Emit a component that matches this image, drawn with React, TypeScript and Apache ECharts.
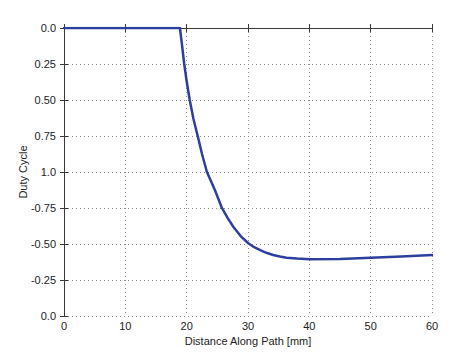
import React, { useEffect, useRef } from "react";
import * as echarts from "echarts";

const yTickLabels = ["0.0", "0.25", "0.50", "0.75", "1.0", "-0.75", "-0.50", "-0.25", "0.0"];
const xTickValues = [0, 10, 20, 30, 40, 50, 60];
const distance = [0, 10, 18.9, 19.25, 19.6, 20.0, 20.5, 21.1, 21.8, 22.5, 23.3, 24.6, 25.7, 26.7, 27.6, 28.8, 30.05, 31.0, 32.0, 33.0, 34.1, 35.2, 36.3, 38.0, 40.1, 45.0, 50.0, 55.0, 60.0];
const duty = [0, 0, 0, 0.12, 0.25, 0.37, 0.5, 0.63, 0.75, 0.875, 1.0, 1.125, 1.245, 1.32, 1.38, 1.445, 1.495, 1.522, 1.543, 1.561, 1.576, 1.587, 1.595, 1.601, 1.606, 1.605, 1.596, 1.587, 1.576];

export default function App() {
  const ref = useRef<HTMLDivElement>(null);
  useEffect(() => {
    if (!ref.current) return;
    const chart = echarts.init(ref.current, null, { renderer: "svg" });
    const font = "Arial, 'Liberation Sans', sans-serif";
    const axisLine = { show: true, lineStyle: { color: "#3a3a3a", width: 1 } };
    const tick = { show: true, inside: true, length: 4, lineStyle: { color: "#3a3a3a" } };
    chart.setOption({
      animation: false,
      backgroundColor: "#ffffff",
      grid: { left: 64, right: 42, top: 28, bottom: 39 },
      xAxis: [
        {
          type: "value",
          min: 0,
          max: 60,
          interval: 10,
          name: "Distance Along Path [mm]",
          nameLocation: "middle",
          nameGap: 19,
          nameMoveOverlap: false,
          nameTextStyle: { fontFamily: font, fontSize: 11, color: "#222" },
          axisLine,
          axisTick: tick,
          axisLabel: {
            fontFamily: font,
            fontSize: 11,
            color: "#222",
            margin: 4,
            formatter: (v: number) => (xTickValues.includes(v) ? String(v) : ""),
          },
          splitLine: { show: true, lineStyle: { type: [1, 3], color: "#888", width: 1 } },
        },
        {
          type: "value",
          position: "top",
          min: 0,
          max: 60,
          interval: 10,
          axisLine,
          axisTick: tick,
          axisLabel: { show: false },
          splitLine: { show: false },
        },
      ],
      yAxis: [
        {
          type: "value",
          min: 0,
          max: 2,
          interval: 0.25,
          inverse: true,
          name: "Duty Cycle",
          nameLocation: "middle",
          nameGap: 36,
          nameRotate: 90,
          nameMoveOverlap: false,
          nameTextStyle: { fontFamily: font, fontSize: 11, color: "#222" },
          axisLine,
          axisTick: tick,
          axisLabel: {
            fontFamily: font,
            fontSize: 11,
            color: "#222",
            margin: 8,
            formatter: (v: number) => yTickLabels[Math.round(v / 0.25)] ?? "",
          },
          splitLine: { show: true, lineStyle: { type: [1, 3], color: "#888", width: 1 } },
        },
        {
          type: "value",
          position: "right",
          min: 0,
          max: 2,
          interval: 0.25,
          inverse: true,
          axisLine,
          axisTick: tick,
          axisLabel: { show: false },
          splitLine: { show: false },
        },
      ],
      series: [
        {
          type: "line",
          data: distance.map((d, i) => [d, duty[i]]),
          showSymbol: false,
          smooth: false,
          lineStyle: { color: "#2c3f9f", width: 2.5, join: "round", cap: "round" },
          clip: true,
        },
      ],
    });
    return () => chart.dispose();
  }, []);
  return (
    <div
      ref={ref}
      style={{ position: "fixed", left: 0, top: 0, width: 474, height: 355, background: "#fff" }}
    />
  );
}
